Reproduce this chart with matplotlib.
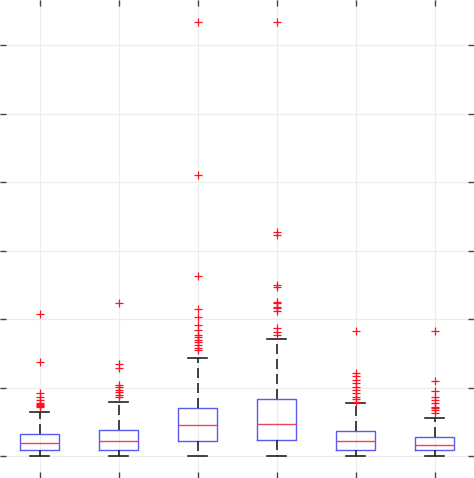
import numpy as np
import matplotlib
matplotlib.use('Agg')
import matplotlib.pyplot as plt

# box statistics (one entry per group)
positions = [1, 2, 3, 4, 5, 6]
whislo = [0.0, 0.0, 0.0, 0.0, 0.0, 0.0]
q1 = [0.088, 0.088, 0.22, 0.23, 0.088, 0.088]
med = [0.19, 0.22, 0.45, 0.47, 0.22, 0.16]
q3 = [0.32, 0.38, 0.70, 0.83, 0.36, 0.28]
whishi = [0.64, 0.79, 1.43, 1.71, 0.77, 0.55]
fliers = [
    [0.715, 0.73, 0.745, 0.76, 0.77, 0.82, 0.86, 0.92, 1.37, 2.07],
    [0.86, 0.89, 0.93, 0.96, 1.01, 1.04, 1.28, 1.34, 2.23],
    [1.55, 1.58, 1.62, 1.66, 1.69, 1.74, 1.77, 1.84, 1.91, 2.03, 2.15, 2.63, 4.10, 6.34],
    [1.77, 1.81, 1.87, 2.12, 2.16, 2.18, 2.23, 2.25, 2.47, 2.50, 3.23, 3.27, 6.34],
    [0.79, 0.83, 0.86, 0.92, 0.96, 1.01, 1.07, 1.11, 1.17, 1.21, 1.82],
    [0.63, 0.67, 0.70, 0.72, 0.77, 0.82, 0.86, 0.95, 1.09, 1.82],
]

stats = []
for i in range(len(positions)):
    stats.append({'whislo': whislo[i], 'q1': q1[i], 'med': med[i], 'q3': q3[i],
                  'whishi': whishi[i], 'fliers': fliers[i]})

fig = plt.figure(figsize=(4.74, 4.78), dpi=100)
ax = fig.add_axes([0, 0, 1, 1])

ax.bxp(stats, positions=positions, widths=0.5,
       boxprops=dict(color='#5a5af0', linewidth=1.0),
       medianprops=dict(color='#f04455', linewidth=1.0),
       whiskerprops=dict(color='#222222', linewidth=1.2, linestyle=(0, (6, 3))),
       capprops=dict(color='#222222', linewidth=1.2),
       flierprops=dict(marker='+', markeredgecolor='#ff1122', markersize=6,
                       markeredgewidth=0.9, linestyle='none'),
       capwidths=0.25)

ax.set_xlim(0.5, 6.5)
ax.set_ylim(-0.32, 6.66)
ax.set_xticks(positions)
ax.set_yticks(np.arange(0, 7))
ax.set_xticklabels([])
ax.set_yticklabels([])
ax.tick_params(direction='in', length=4, width=1, color='#444444',
               top=True, right=True, bottom=True, left=True)
ax.grid(True, color='#ececec', linewidth=0.8)
ax.set_axisbelow(True)
for s in ax.spines.values():
    s.set_visible(False)

fig.savefig('out.png', dpi=100)
